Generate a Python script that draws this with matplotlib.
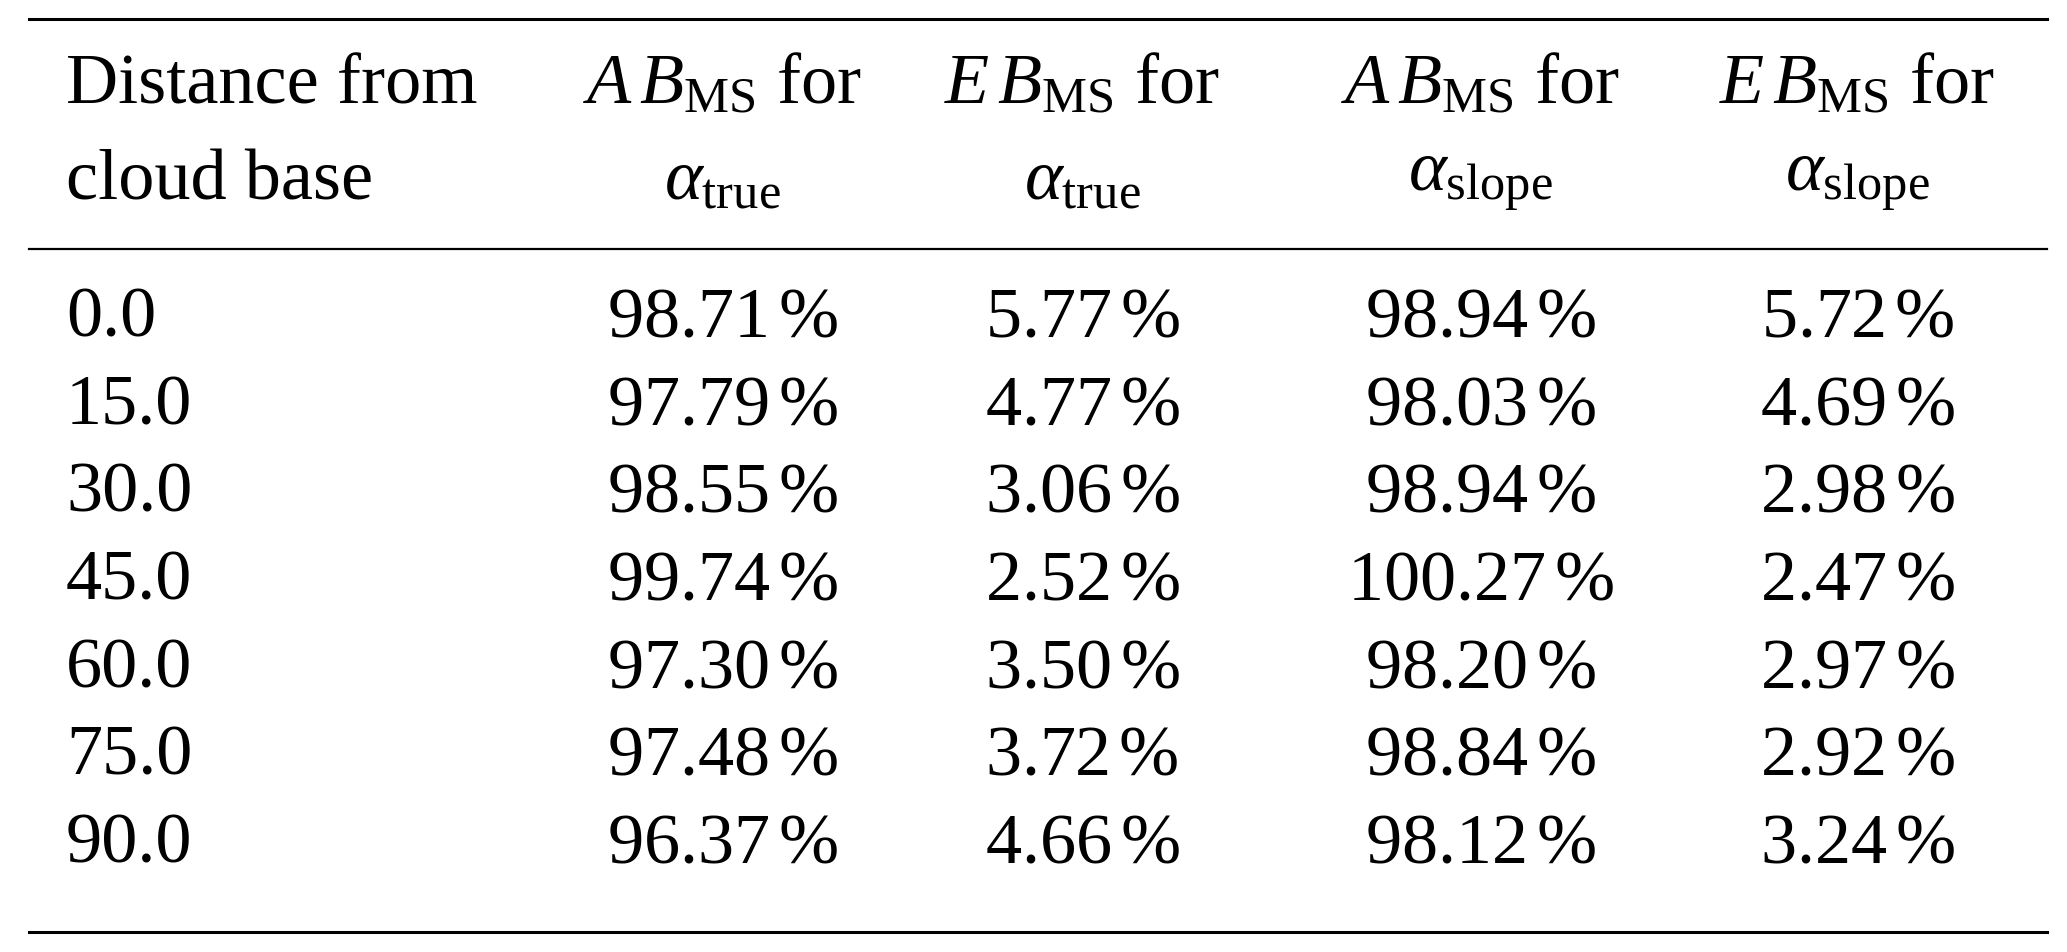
import matplotlib
matplotlib.use("Agg")
import matplotlib.pyplot as plt

plt.rcParams['font.family'] = ['Liberation Serif', 'DejaVu Serif']
plt.rcParams['mathtext.fontset'] = 'custom'
plt.rcParams['mathtext.rm'] = 'Liberation Serif'
plt.rcParams['mathtext.it'] = 'Liberation Serif:italic'
plt.rcParams['mathtext.bf'] = 'Liberation Serif:bold'

distances = ["0.0", "15.0", "30.0", "45.0", "60.0", "75.0", "90.0"]
a_true = ["98.71", "97.79", "98.55", "99.74", "97.30", "97.48", "96.37"]
e_true = ["5.77", "4.77", "3.06", "2.52", "3.50", "3.72", "4.66"]
a_slope = ["98.94", "98.03", "98.94", "100.27", "98.20", "98.84", "98.12"]
e_slope = ["5.72", "4.69", "2.98", "2.47", "2.97", "2.92", "3.24"]

headers1 = ["Distance from", r"$A\,B_{\mathrm{MS}}$ for", r"$E\,B_{\mathrm{MS}}$ for",
            r"$A\,B_{\mathrm{MS}}$ for", r"$E\,B_{\mathrm{MS}}$ for"]
headers2 = ["cloud base", r"$\alpha_{\mathrm{true}}$", r"$\alpha_{\mathrm{true}}$",
            r"$\alpha_{\mathrm{slope}}$", r"$\alpha_{\mathrm{slope}}$"]

fig = plt.figure(figsize=(20.67, 9.53), dpi=100)
fs = 52
W, H = 1568.0, 723.0
def fy(y): return 1 - y / H

for y, lw in [(15, 2.2), (190, 1.6), (708, 2.2)]:
    fig.add_artist(plt.Line2D([22 / W, 1553 / W], [fy(y), fy(y)], color='black', lw=lw))

xs = [50 / W, 548 / W, 821 / W, 1123 / W, 1409 / W]
for i in range(5):
    ha = 'left' if i == 0 else 'center'
    fig.text(xs[i], fy(65), headers1[i], ha=ha, va='center', fontsize=fs)
    fig.text(xs[i], fy(138), headers2[i], ha=ha, va='center', fontsize=fs)

cols = [a_true, e_true, a_slope, e_slope]
for r, d in enumerate(distances):
    y = fy(242 + r * 66.5)
    fig.text(xs[0], y, d, ha='left', va='center', fontsize=fs)
    for c, col in enumerate(cols):
        fig.text(xs[c + 1], y, col[r] + r"$\,\mathit{\%}$", ha='center', va='center', fontsize=fs)

fig.savefig("out.png", dpi=100)
